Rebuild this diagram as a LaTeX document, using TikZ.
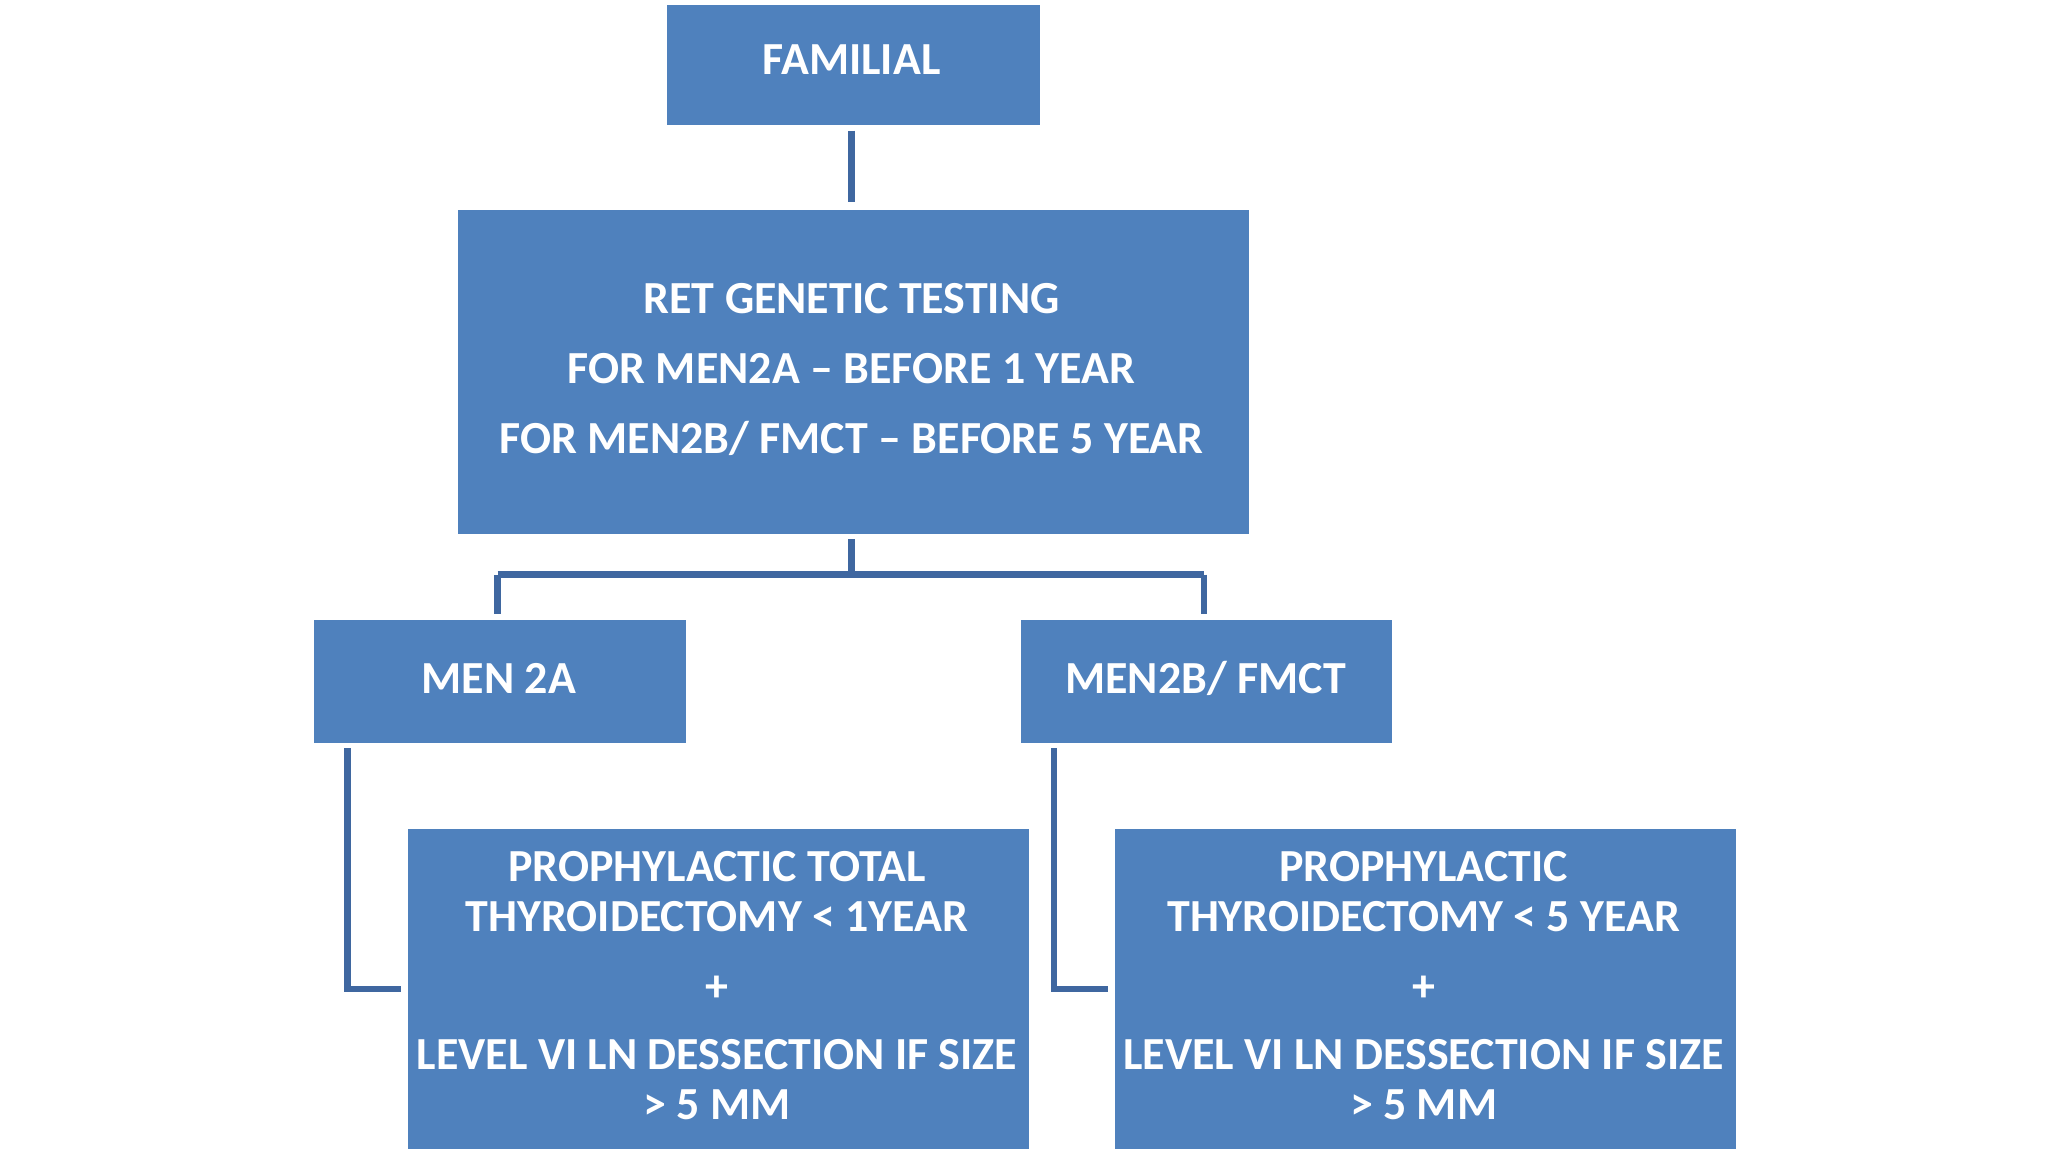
\documentclass[tikz,border=0pt]{standalone}
\usepackage{fontspec}
\setmainfont{Carlito}
\definecolor{boxblue}{HTML}{4F81BD}
\definecolor{lineblue}{HTML}{3F67A0}
\begin{document}
\begin{tikzpicture}[x=0.01cm,y=-0.01cm,
  box/.style={fill=boxblue,draw=none,anchor=north west,inner sep=0pt},
  txt/.style={text=white,font=\bfseries\fontsize{10}{12}\selectfont,inner sep=0pt,anchor=base},
  conn/.style={draw=lineblue,line width=1.4pt}]
\useasboundingbox (0,0) rectangle (1568,882);
\node[box,minimum width=285\pgflinewidth*0+2.85cm,minimum height=0.92cm] (fam) at (510,3) {};
\node[box,minimum width=6.05cm,minimum height=2.48cm] (ret) at (350,160) {};
\node[box,minimum width=2.84cm,minimum height=0.94cm] (a) at (240,474) {};
\node[box,minimum width=2.84cm,minimum height=0.94cm] (b) at (781,474) {};
\node[box,minimum width=4.75cm,minimum height=2.45cm] (pa) at (312,634) {};
\node[box,minimum width=4.75cm,minimum height=2.45cm] (pb) at (853,634) {};
\node[txt] (t1) at (652,57) {FAMILIAL};
\node[txt] (t2) at (652,240) {RET GENETIC TESTING};
\node[txt] (t3) at (652,294) {FOR MEN2A -- BEFORE 1 YEAR};
\node[txt] (t4) at (652,347) {FOR MEN2B/ FMCT -- BEFORE 5 YEAR};
\node[txt] (t5) at (382,531) {MEN 2A};
\node[txt] (t6) at (923,531) {MEN2B/ FMCT};
\foreach \cx/\ta/\tb/\n in {549/PROPHYLACTIC TOTAL/THYROIDECTOMY < 1YEAR/l,1090/PROPHYLACTIC/THYROIDECTOMY < 5 YEAR/r}{
  \node[txt] (p1\n) at (\cx,675) {\ta};
  \node[txt] (p2\n) at (\cx,713) {\tb};
  \node[txt] (p3\n) at (\cx,767) {+};
  \node[txt] (p4\n) at (\cx,819) {LEVEL VI LN DESSECTION IF SIZE};
  \node[txt] (p5\n) at (\cx,857) {> 5 MM};
}
\coordinate (f0) at (652,100);
\coordinate (f1) at (652,155);
\draw[conn] (f0) -- (f1);
\coordinate (r0) at (652,413);
\coordinate (r1) at (652,440);
\coordinate (al) at (381,440);
\coordinate (ar) at (922,440);
\coordinate (a1) at (381,470);
\coordinate (b1) at (922,470);
\draw[conn] (r0) -- (r1) (al) -- (ar) (al) -- (a1) (ar) -- (b1);
\coordinate (la0) at (266,573);
\coordinate (la1) at (266,757);
\coordinate (la2) at (307,757);
\coordinate (lb0) at (807,573);
\coordinate (lb1) at (807,757);
\coordinate (lb2) at (848,757);
\draw[conn] (la0) -- (la1) -- (la2);
\draw[conn] (lb0) -- (lb1) -- (lb2);
\end{tikzpicture}
\end{document}
